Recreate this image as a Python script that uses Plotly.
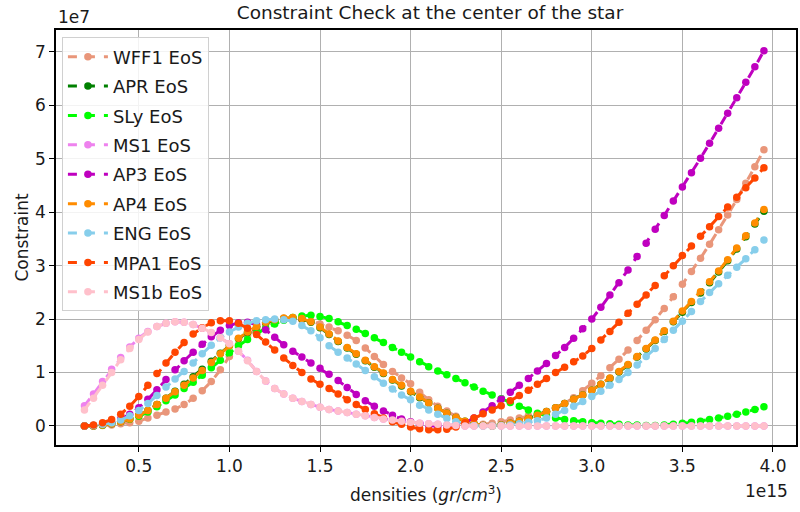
import plotly.graph_objects as go

# densities (units of 1e15 g/cm^3)
densities = [
    0.20, 0.25, 0.30, 0.35, 0.40, 0.45, 0.50, 0.55, 0.60, 0.65,
    0.70, 0.75, 0.80, 0.85, 0.90, 0.95, 1.00, 1.05, 1.10, 1.15,
    1.20, 1.25, 1.30, 1.35, 1.40, 1.45, 1.50, 1.55, 1.60, 1.65,
    1.70, 1.75, 1.80, 1.85, 1.90, 1.95, 2.00, 2.05, 2.10, 2.15,
    2.20, 2.25, 2.30, 2.35, 2.40, 2.45, 2.50, 2.55, 2.60, 2.65,
    2.70, 2.75, 2.80, 2.85, 2.90, 2.95, 3.00, 3.05, 3.10, 3.15,
    3.20, 3.25, 3.30, 3.35, 3.40, 3.45, 3.50, 3.55, 3.60, 3.65,
    3.70, 3.75, 3.80, 3.85, 3.90, 3.95,
]

# constraint values (units of 1e7)
wff1 = [
    0.00, 0.00, 0.01, 0.02, 0.04, 0.06, 0.09, 0.15, 0.20, 0.26,
    0.32, 0.40, 0.52, 0.66, 0.83, 1.05, 1.30, 1.52, 1.70, 1.82,
    1.91, 1.96, 1.99, 2.00, 1.99, 1.96, 1.91, 1.85, 1.78, 1.70,
    1.60, 1.46, 1.30, 1.15, 1.02, 0.90, 0.79, 0.63, 0.49, 0.37,
    0.28, 0.18, 0.08, 0.02, 0.03, 0.05, 0.08, 0.11, 0.15, 0.19,
    0.22, 0.26, 0.33, 0.42, 0.53, 0.66, 0.80, 0.94, 1.09, 1.25,
    1.42, 1.60, 1.79, 1.99, 2.20, 2.42, 2.65, 2.89, 3.14, 3.40,
    3.67, 3.95, 4.24, 4.54, 4.85, 5.17,
]
apr = [
    0.00, 0.00, 0.02, 0.04, 0.08, 0.13, 0.20, 0.29, 0.40, 0.52,
    0.65, 0.78, 0.92, 1.06, 1.21, 1.36, 1.50, 1.63, 1.75, 1.85,
    1.93, 1.98, 2.01, 2.02, 2.00, 1.94, 1.84, 1.71, 1.58, 1.46,
    1.34, 1.22, 1.10, 0.98, 0.86, 0.75, 0.64, 0.53, 0.43, 0.33,
    0.24, 0.16, 0.09, 0.04, 0.01, 0.00, 0.02, 0.05, 0.09, 0.14,
    0.20, 0.27, 0.34, 0.42, 0.50, 0.58, 0.67, 0.78, 0.89, 1.01,
    1.14, 1.29, 1.44, 1.60, 1.77, 1.95, 2.13, 2.31, 2.49, 2.68,
    2.88, 3.09, 3.31, 3.54, 3.78, 4.02,
]
sly = [
    0.00, 0.01, 0.02, 0.05, 0.09, 0.13, 0.18, 0.26, 0.36, 0.47,
    0.58, 0.70, 0.82, 0.95, 1.09, 1.23, 1.37, 1.50, 1.62, 1.73,
    1.83, 1.91, 1.98, 2.03, 2.06, 2.07, 2.05, 2.01, 1.95, 1.88,
    1.81, 1.73, 1.65, 1.56, 1.47, 1.38, 1.29, 1.20, 1.11, 1.03,
    0.96, 0.89, 0.81, 0.73, 0.65, 0.58, 0.51, 0.44, 0.37, 0.30,
    0.24, 0.19, 0.15, 0.12, 0.10, 0.08, 0.06, 0.05, 0.04, 0.03,
    0.02, 0.02, 0.01, 0.01, 0.02, 0.03, 0.05, 0.07, 0.09, 0.12,
    0.15, 0.18, 0.22, 0.26, 0.31, 0.36,
]
ms1 = [
    0.38, 0.60, 0.83, 1.06, 1.28, 1.48, 1.64, 1.77, 1.86, 1.92,
    1.95, 1.94, 1.90, 1.83, 1.74, 1.65, 1.54, 1.40, 1.23, 1.02,
    0.84, 0.70, 0.60, 0.52, 0.46, 0.40, 0.35, 0.31, 0.28, 0.25,
    0.22, 0.19, 0.16, 0.13, 0.11, 0.09, 0.07, 0.05, 0.04, 0.03,
    0.02, 0.01, 0.00, 0.00, 0.00, 0.00, 0.00, 0.00, 0.00, 0.00,
    0.00, 0.00, 0.00, 0.00, 0.00, 0.00, 0.00, 0.00, 0.00, 0.00,
    0.00, 0.00, 0.00, 0.00, 0.00, 0.00, 0.00, 0.00, 0.00, 0.00,
    0.00, 0.00, 0.00, 0.00, 0.00, 0.00,
]
ap3 = [
    0.00, 0.01, 0.03, 0.07, 0.13, 0.22, 0.34, 0.50, 0.68, 0.87,
    1.05, 1.22, 1.38, 1.53, 1.67, 1.79, 1.88, 1.93, 1.94, 1.90,
    1.80, 1.66, 1.52, 1.40, 1.29, 1.18, 1.08, 0.97, 0.85, 0.72,
    0.59, 0.47, 0.37, 0.28, 0.20, 0.13, 0.08, 0.04, 0.01, -0.01,
    -0.01, 0.01, 0.06, 0.15, 0.26, 0.38, 0.50, 0.63, 0.76, 0.89,
    1.03, 1.17, 1.32, 1.47, 1.64, 1.82, 2.00, 2.22, 2.45, 2.68,
    2.92, 3.17, 3.42, 3.68, 3.94, 4.21, 4.47, 4.74, 5.01, 5.29,
    5.57, 5.85, 6.14, 6.43, 6.72, 7.02,
]
ap4 = [
    0.00, 0.00, 0.02, 0.04, 0.08, 0.13, 0.20, 0.29, 0.40, 0.52,
    0.64, 0.76, 0.90, 1.04, 1.19, 1.35, 1.50, 1.64, 1.76, 1.86,
    1.94, 1.99, 2.02, 2.03, 2.01, 1.95, 1.85, 1.72, 1.59, 1.47,
    1.35, 1.23, 1.11, 0.99, 0.87, 0.76, 0.65, 0.54, 0.43, 0.33,
    0.24, 0.16, 0.09, 0.04, 0.01, 0.00, 0.02, 0.05, 0.09, 0.14,
    0.20, 0.27, 0.34, 0.42, 0.50, 0.58, 0.67, 0.78, 0.90, 1.02,
    1.15, 1.30, 1.45, 1.61, 1.78, 1.96, 2.15, 2.33, 2.51, 2.70,
    2.90, 3.11, 3.33, 3.56, 3.80, 4.05,
]
eng = [
    0.00, 0.01, 0.03, 0.06, 0.11, 0.19, 0.29, 0.42, 0.57, 0.73,
    0.88, 1.02, 1.18, 1.35, 1.51, 1.65, 1.76, 1.85, 1.92, 1.97,
    1.99, 2.00, 1.99, 1.96, 1.88, 1.78, 1.65, 1.50, 1.38, 1.27,
    1.16, 1.04, 0.92, 0.80, 0.69, 0.58, 0.49, 0.39, 0.30, 0.22,
    0.14, 0.08, 0.04, 0.01, 0.00, 0.00, 0.01, 0.02, 0.04, 0.07,
    0.10, 0.15, 0.22, 0.29, 0.37, 0.46, 0.55, 0.65, 0.76, 0.87,
    1.00, 1.14, 1.30, 1.45, 1.62, 1.79, 1.96, 2.14, 2.33, 2.50,
    2.66, 2.82, 2.97, 3.13, 3.30, 3.48,
]
mpa1 = [
    0.00, 0.02, 0.06, 0.12, 0.22, 0.37, 0.55, 0.76, 0.98, 1.18,
    1.38, 1.56, 1.72, 1.84, 1.93, 1.97, 1.97, 1.92, 1.83, 1.71,
    1.57, 1.42, 1.27, 1.13, 1.00, 0.88, 0.78, 0.70, 0.60, 0.49,
    0.40, 0.31, 0.23, 0.15, 0.08, 0.03, -0.02, -0.05, -0.07, -0.07,
    -0.06, -0.02, 0.06, 0.15, 0.23, 0.30, 0.38, 0.47, 0.57, 0.67,
    0.78, 0.89, 1.00, 1.10, 1.20, 1.31, 1.45, 1.61, 1.77, 1.94,
    2.11, 2.28, 2.45, 2.63, 2.81, 3.00, 3.19, 3.37, 3.55, 3.73,
    3.92, 4.10, 4.28, 4.46, 4.64, 4.83,
]
ms1b = [
    0.30, 0.52, 0.76, 1.00, 1.24, 1.45, 1.62, 1.76, 1.86, 1.92,
    1.95, 1.94, 1.90, 1.83, 1.75, 1.65, 1.54, 1.40, 1.22, 1.02,
    0.84, 0.70, 0.60, 0.52, 0.46, 0.40, 0.35, 0.31, 0.28, 0.25,
    0.22, 0.19, 0.16, 0.13, 0.11, 0.09, 0.07, 0.05, 0.04, 0.03,
    0.02, 0.01, 0.00, 0.00, 0.00, 0.00, 0.00, 0.00, 0.00, 0.00,
    0.00, 0.00, 0.00, 0.00, 0.00, 0.00, 0.00, 0.00, 0.00, 0.00,
    0.00, 0.00, 0.00, 0.00, 0.00, 0.00, 0.00, 0.00, 0.00, 0.00,
    0.00, 0.00, 0.00, 0.00, 0.00, 0.00,
]

series_names = ["WFF1 EoS", "APR EoS", "SLy EoS", "MS1 EoS", "AP3 EoS",
                "AP4 EoS", "ENG EoS", "MPA1 EoS", "MS1b EoS"]
series_values = [wff1, apr, sly, ms1, ap3, ap4, eng, mpa1, ms1b]
series_colors = ["#E9967A", "#008000", "#00FF00", "#EE82EE", "#BF00BF",
                 "#FF8C00", "#87CEEB", "#FF4500", "#FFC0CB"]

x_ticks = [0.5, 1.0, 1.5, 2.0, 2.5, 3.0, 3.5, 4.0]
y_ticks = [0, 1, 2, 3, 4, 5, 6, 7]

FONT = "DejaVu Sans"
TXT = "#1a1a1a"

fig = go.Figure()
for i, (name, vals, col) in enumerate(zip(series_names, series_values, series_colors)):
    fig.add_trace(go.Scatter(
        x=densities, y=vals, name=name, mode="lines+markers",
        line=dict(color=col, width=3, dash="dash"),
        marker=dict(color=col, size=7.5, symbol="circle"),
        legendgroup=f"g{i}",
    ))

fig.update_layout(
    width=800, height=512,
    margin=dict(l=56, r=2, t=30, b=67),
    paper_bgcolor="white", plot_bgcolor="white",
    font=dict(family=FONT, size=17, color=TXT),
    title=dict(text="Constraint Check at the center of the star",
               x=430 / 800, xanchor="center", y=1 - 13 / 512, yanchor="middle",
               font=dict(family=FONT, size=18.5, color=TXT)),
    showlegend=True,
    legend=dict(x=0.008, y=0.982, xanchor="left", yanchor="top",
                bgcolor="rgba(255,255,255,0.85)", bordercolor="#d0d0d0",
                borderwidth=1, font=dict(family=FONT, size=18, color=TXT),
                traceorder="grouped", tracegroupgap=3, itemwidth=40),
    xaxis=dict(range=[0.043, 4.127], tickvals=x_ticks,
               ticktext=[f"{v:.1f}" for v in x_ticks],
               showgrid=True, gridcolor="#b0b0b0", gridwidth=1,
               showline=True, linecolor="black", linewidth=1.5, mirror=True,
               ticks="outside", ticklen=5, tickcolor="black", zeroline=False,
               title=dict(text="densities (<i>gr</i>/<i>cm</i><sup>3</sup>)",
                          standoff=14, font=dict(family=FONT, size=17, color=TXT))),
    yaxis=dict(range=[-0.356, 7.41], tickvals=y_ticks,
               ticktext=[str(v) for v in y_ticks],
               showgrid=True, gridcolor="#b0b0b0", gridwidth=1,
               showline=True, linecolor="black", linewidth=1.5, mirror=True,
               ticks="outside", ticklen=5, tickcolor="black", zeroline=False,
               title=dict(text="Constraint", standoff=2,
                          font=dict(family=FONT, size=17, color=TXT))),
    annotations=[
        dict(text="1e7", xref="paper", yref="paper", x=0, y=1,
             xanchor="left", yanchor="bottom", showarrow=False,
             font=dict(family=FONT, size=17, color=TXT), yshift=1),
        dict(text="1e15", xref="paper", yref="paper", x=1, y=0,
             xanchor="right", yanchor="top", showarrow=False,
             font=dict(family=FONT, size=17, color=TXT), yshift=-34, xshift=-6),
    ],
)

fig.write_html("out.html")
